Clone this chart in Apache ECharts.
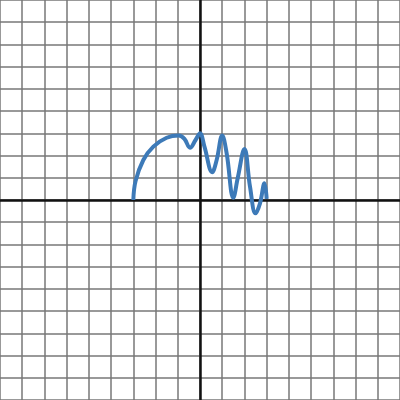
<!DOCTYPE html>
<html>
<head>
<meta charset="UTF-8">
<script src="https://cdn.jsdelivr.net/npm/echarts@6/dist/echarts.min.js"></script>
<style>html,body{margin:0;padding:0;background:#fff}#c{width:400px;height:400px}</style>
</head>
<body>
<div id="c"></div>
<script>
var xs = [-3.0, -2.9, -2.55, -2.1, -1.5, -0.95, -0.7, -0.45, -0.2, 0.0, 0.2, 0.55, 0.75, 1.0, 1.2, 1.5, 1.7, 2.0, 2.25, 2.5, 2.7, 2.9, 3.0];
var ys = [0.0, 0.85, 1.8, 2.4, 2.8, 2.9, 2.75, 2.35, 2.7, 3.0, 2.4, 1.25, 1.8, 2.9, 2.1, 0.1, 1.0, 2.3, 0.6, -0.6, -0.15, 0.75, 0.05];
var pts = xs.map(function (x, i) { return [x, ys[i]]; });

var chart = echarts.init(document.getElementById('c'));
var ax = {
	type: 'value', min: -9, max: 9, interval: 1,
	axisLabel: {show: false}, axisTick: {show: false},
	axisLine: {show: true, onZero: true, lineStyle: {color: '#111', width: 2.5}},
	splitLine: {lineStyle: {color: '#777', width: 1.5}}
};
chart.setOption({
	animation: false,
	grid: {left: 0, right: 0, top: 0, bottom: 0},
	xAxis: ax,
	yAxis: ax,
	series: [{
		type: 'line', data: pts, smooth: 0.4, showSymbol: false,
		lineStyle: {color: '#3d7ab8', width: 4}
	}]
});
</script>
</body>
</html>
